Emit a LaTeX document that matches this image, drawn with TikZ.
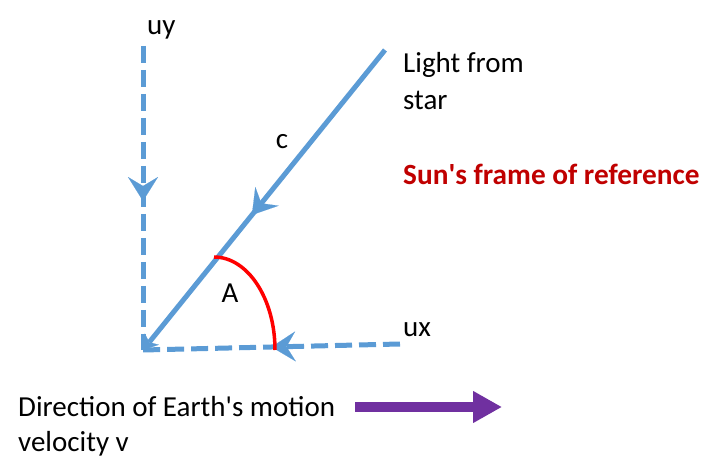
\documentclass[tikz,border=0pt]{standalone}
\usepackage{fontspec}
\setmainfont{Carlito}
\usetikzlibrary{arrows.meta,decorations.markings}
\definecolor{rayblue}{HTML}{5B9BD5}
\definecolor{sunred}{HTML}{C00000}
\definecolor{motionpurple}{HTML}{7030A0}
\tikzset{
	ray/.style={rayblue,line width=5pt},
	dashray/.style={ray,dash pattern=on 17pt off 7pt},
	midarrow/.style={postaction={decorate,decoration={markings,
		mark=at position #1 with {\arrow{Stealth[length=24pt,width=30pt,inset=9pt,line width=0.1pt]}}}}},
	label/.style={inner sep=0pt,anchor=base west}
}
\begin{document}
\begin{tikzpicture}[x=1pt,y=-1pt,line join=round,font=\fontsize{29}{34}\selectfont]
	\useasboundingbox (0,0) rectangle (710,473);
	\coordinate (O) at (143,350);
	\coordinate (uytop) at (143,46);
	\coordinate (star) at (385,50);
	\coordinate (uxend) at (400,344);
	\coordinate (arcstart) at (214,257);
	% velocity components and the ray of light
	\draw [dashray,midarrow=0.51] (uytop)--(O);
	\draw [dashray,midarrow=0.5] (uxend)--(O);
	\draw [ray,midarrow=0.55,-{Stealth[length=14pt,width=18pt,inset=4pt,line width=0.1pt]}] (star)--(O);
	\draw [red,line width=3.5pt] (arcstart) arc [start angle=-90,end angle=0,x radius=61,y radius=93];
	% labels
	\node [label] (uy) at (147,35) {uy};
	\node [inner sep=0pt] (c) at (282,142) {c};
	\node [inner sep=0pt] (A) at (230,293) {A};
	\node [label] (ux) at (403,337) {ux};
	\node [label] (light) at (403,73) {Light from};
	\node [label] (star text) at (403,110) {star};
	\node [label,sunred,font=\fontsize{29.3}{34}\selectfont\bfseries] (frame) at (403,185) {Sun\textquotesingle s frame of reference};
	\node [label] (direction) at (18,416) {Direction of Earth\textquotesingle s motion};
	\node [label] (velocity) at (18,451) {velocity v};
	% Earth's motion
	\coordinate (vstart) at (355,407);
	\coordinate (vend) at (502,407);
	\draw [motionpurple,line width=10pt,-{Triangle[length=29pt,width=30pt]}] (vstart)--(vend);
\end{tikzpicture}
\end{document}
